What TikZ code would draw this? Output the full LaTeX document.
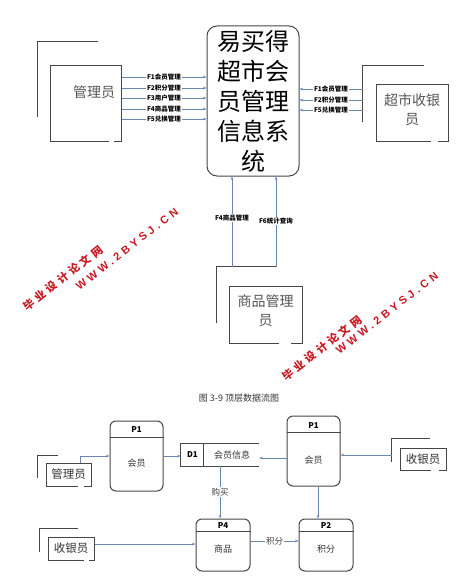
\documentclass[tikz,border=0pt]{standalone}
\usepackage{fontspec}
\setmainfont{Noto Sans CJK SC}
\newfontfamily\wmcjk[LetterSpace=30]{Noto Sans CJK SC}
\newfontfamily\wmlatin[LetterSpace=32]{Liberation Sans}
\usetikzlibrary{arrows.meta}
\definecolor{linec}{RGB}{70,70,70}
\definecolor{flowc}{RGB}{105,135,175}
\definecolor{entc}{RGB}{85,85,85}
\definecolor{wmc}{RGB}{200,25,35}

\begin{document}
\begin{tikzpicture}[
    x=1pt, y=-1pt,
    flow/.style={draw=flowc, line width=0.8pt, -{Stealth[length=3.5pt,width=2.6pt]}},
    boxline/.style={draw=linec, line width=1pt},
    ent/.style={rectangle, boxline, inner sep=0pt},
    enttxt/.style={font=\fontsize{14}{19}\selectfont, text=entc, align=center},
    sment/.style={font=\fontsize{11.5}{13}\selectfont, text=black!80},
    lab/.style={font=\fontsize{6.5}{7}\selectfont\bfseries, fill=white, inner sep=0.6pt},
    blab/.style={font=\fontsize{8.5}{9}\selectfont, text=black!75, fill=white, inner sep=1pt},
    proc/.style={rectangle, rounded corners=6pt, boxline, inner sep=0pt},
    ptitle/.style={font=\fontsize{8}{9}\selectfont\bfseries},
    ptxt/.style={font=\fontsize{9}{10}\selectfont, text=black!80},
    gap/.style={draw=white, line width=2pt},
    wmark/.style={text=wmc, font=\bfseries\fontsize{11}{12}\selectfont, rotate=38},
  ]
  \useasboundingbox (0,0) rectangle (474,578);

  % ---- top level diagram
  \node[
    rectangle, boxline, rounded corners=10pt,
    minimum width=92pt, minimum height=150pt, inner sep=0pt,
    font=\fontsize{24}{30}\selectfont, align=center,
  ] (sys) at (253,101) {易买得\\超市会\\员管理\\信息系\\统};

  % manager
  \node[ent, minimum width=71pt, minimum height=75pt] (mgr) at (85.5,103.5) {};
  \node[enttxt] (mgrtxt) at (94,92) {管理员};
  \draw[boxline] ([shift={(-12,51)}]mgr.north west) |- ([shift={(48,-24)}]mgr.north west);
  \draw[gap] ([xshift=-13pt]mgr.south east) -- ([xshift=-8pt]mgr.south east);
  \foreach \y/\lbl in {77/F1会员管理, 88/F2积分管理, 98/F3用户管理, 109/F4商品管理, 119/F5兑换管理}
    \draw[flow] (mgr.east |- 0,\y) -- (sys.west |- 0,\y) node[lab, midway] {\lbl};

  % cashier
  \node[ent, minimum width=72pt, minimum height=57pt] (cash) at (412,112.5) {};
  \node[enttxt] (cashtxt) at (412,110) {超市收银\\员};
  \coordinate (cashb) at ([shift={(-13,-18)}]cash.north west);
  \draw[boxline] ([shift={(-13,38)}]cash.north west) -- (cashb) -- ([shift={(48,-18)}]cash.north west);
  \draw[gap] ([xshift=-18pt]cash.south east) -- ([xshift=-11pt]cash.south east);
  \foreach \y/\lbl in {89/F1会员管理, 100/F2积分管理, 110/F5兑换管理}
    \draw[flow] (cashb |- 0,\y) -- (sys.east |- 0,\y) node[lab, midway] {\lbl};

  % goods manager
  \node[ent, minimum width=73pt, minimum height=57pt] (gm) at (265.5,314.5) {};
  \node[enttxt] (gmtxt) at (265.5,311) {商品管理\\员};
  \coordinate (gmb) at ([shift={(-12,-19)}]gm.north west);
  \draw[boxline] ([shift={(-12,37)}]gm.north west) -- (gmb) -- ([shift={(48,-19)}]gm.north west);
  \draw[gap] ([xshift=-24pt]gm.south east) -- ([xshift=-12pt]gm.south east);
  \draw[flow] (gmb -| 232,0) -- (sys.south -| 232,0) node[lab, pos=0.54] {F4商品管理};
  \draw[flow] (gmb -| 276,0) -- (sys.south -| 276,0) node[lab, pos=0.5] {F6统计查询};

  \node[font=\fontsize{9}{10}\selectfont, text=black!80] (cap) at (239,398) {图 3-9 顶层数据流图};

  % watermarks
  \node[wmark] (wm1a) at (63,278) {\wmcjk 毕业设计论文网};
  \node[wmark] (wm1b) at (127,249) {\wmlatin WWW.2BYSJ.CN};
  \node[wmark] (wm2a) at (322,348) {\wmcjk 毕业设计论文网};
  \node[wmark] (wm2b) at (387,313) {\wmlatin WWW.2BYSJ.CN};

  % ---- first level diagram
  \node[proc, minimum width=53pt, minimum height=70pt] (p1a) at (136.5,456) {};
  \draw[boxline] ([yshift=-17pt]p1a.north west) -- ([yshift=-17pt]p1a.north east);
  \node[ptitle] (p1atl) at (136.5,430) {P1};
  \node[ptxt] (p1atx) at (136.5,463) {会员};

  \node[proc, minimum width=53pt, minimum height=70pt] (p1b) at (313.5,451) {};
  \draw[boxline] ([yshift=-17pt]p1b.north west) -- ([yshift=-17pt]p1b.north east);
  \node[ptitle] (p1btl) at (313.5,426) {P1};
  \node[ptxt] (p1btx) at (313.5,460) {会员};

  \node[proc, minimum width=54pt, minimum height=52pt] (p4) at (223,545) {};
  \draw[boxline] ([yshift=-13pt]p4.north west) -- ([yshift=-13pt]p4.north east);
  \node[ptitle] (p4tl) at (223,525.5) {P4};
  \node[ptxt] (p4tx) at (223,549) {商品};

  \node[proc, minimum width=54pt, minimum height=52pt] (p2) at (326,545) {};
  \draw[boxline] ([yshift=-13pt]p2.north west) -- ([yshift=-13pt]p2.north east);
  \node[ptitle] (p2tl) at (326,525.5) {P2};
  \node[ptxt] (p2tx) at (326,549) {积分};

  % data store
  \node[minimum width=78pt, minimum height=22pt, inner sep=0pt] (d1) at (220,455) {};
  \draw[boxline] (d1.north east) -- (d1.north west) -- (d1.south west) -- (d1.south east);
  \draw[boxline] ([xshift=23pt]d1.north west) -- ([xshift=23pt]d1.south west);
  \node[ptitle] (d1tl) at (192.5,455) {D1};
  \node[ptxt] (d1tx) at (232,455) {会员信息};

  % external entities
  \node[ent, minimum width=45pt, minimum height=23pt] (bmgr) at (68.5,474.5) {};
  \node[sment] (bmgrtxt) at (68.5,474.5) {管理员};
  \draw[boxline] ([shift={(-8,15)}]bmgr.north west) |- ([shift={(12,-7)}]bmgr.north west);
  \draw[gap] ([xshift=-14pt]bmgr.south east) -- ([xshift=-8pt]bmgr.south east);

  \node[ent, minimum width=46pt, minimum height=23pt] (bcash) at (71,548.5) {};
  \node[sment] (bcashtxt) at (71,548.5) {收银员};
  \draw[boxline] ([shift={(-8,15)}]bcash.north west) |- ([shift={(30,-8)}]bcash.north west);
  \draw[gap] ([xshift=-11pt]bcash.south east) -- ([xshift=-6pt]bcash.south east);

  \node[ent, minimum width=46pt, minimum height=22pt] (rcash) at (423,459) {};
  \node[sment] (rcashtxt) at (423,459) {收银员};
  \coordinate (rcashb) at ([shift={(-8,-9)}]rcash.north west);
  \draw[boxline] ([shift={(-8,14)}]rcash.north west) -- (rcashb) -- ([shift={(30,-9)}]rcash.north west);
  \draw[gap] ([xshift=-16pt]rcash.south east) -- ([xshift=-8pt]rcash.south east);

  % flows
  \draw[flow] ([xshift=11.5pt]bmgr.north) |- (p1a.west);
  \draw[flow] (p1a.east) -- (p1a.east -| d1.west);
  \draw[flow] (p1b.west |- 0,458) -- (d1.east |- 0,458);
  \draw[flow] (rcashb |- 0,455) -- (p1b.east |- 0,455);
  \draw[flow] (d1.south) -- (d1.south |- p4.north) node[blab, midway] {购买};
  \draw[flow] (p1b.south -| 318,0) -- (p2.north -| 318,0);
  \draw[flow] (p4.east |- 0,541) -- (p2.west |- 0,541) node[blab, midway] {积分};
  \draw[flow] (bcash.east |- 0,544) -- (p4.west |- 0,544);
\end{tikzpicture}
\end{document}
